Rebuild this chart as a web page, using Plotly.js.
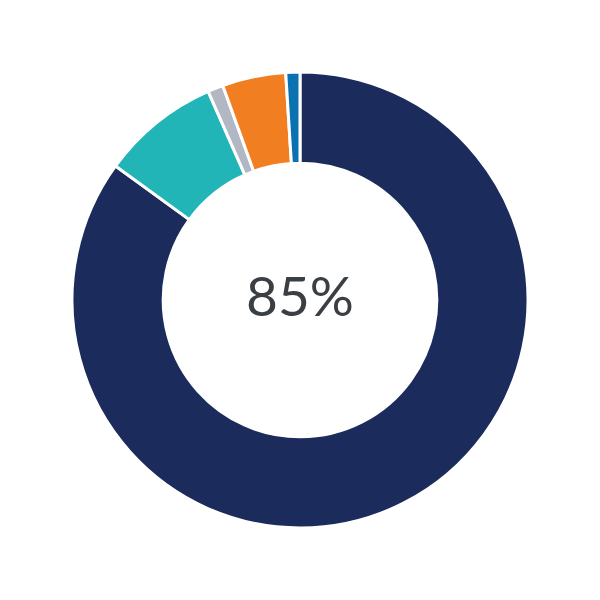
<!DOCTYPE html>
<html>
<head>
<meta charset="utf-8">
<script src="https://cdn.plot.ly/plotly-3.0.1.min.js"></script>
<style>html,body{margin:0;padding:0;background:#fff;}#chart{width:600px;height:600px;}</style>
</head>
<body>
<div id="chart"></div>
<script>
const labels = ["Segment A", "Segment B", "Segment C", "Segment D", "Segment E"];
const values = [85, 8.4, 1.1, 4.5, 1.0];
const colors = ["#1b2b5b", "#21b5b8", "#b1b7c3", "#f17f22", "#0b72b2"];
const centerText = "85%";

Plotly.newPlot("chart", [{
  type: "pie",
  labels: labels,
  values: values,
  hole: 0.6,
  sort: false,
  direction: "clockwise",
  rotation: 0,
  textinfo: "none",
  hoverinfo: "label+percent",
  marker: { colors: colors, line: { color: "#ffffff", width: 3 } }
}], {
  width: 600, height: 600,
  margin: { l: 72, r: 72, t: 72, b: 72 },
  showlegend: false,
  paper_bgcolor: "#ffffff",
  annotations: [{
    text: centerText, x: 0.5, y: 0.51, xref: "paper", yref: "paper",
    showarrow: false,
    font: { family: "Lato, sans-serif", size: 55, color: "#3a3f44" }
  }]
}, { displayModeBar: false, staticPlot: true });
</script>
</body>
</html>
